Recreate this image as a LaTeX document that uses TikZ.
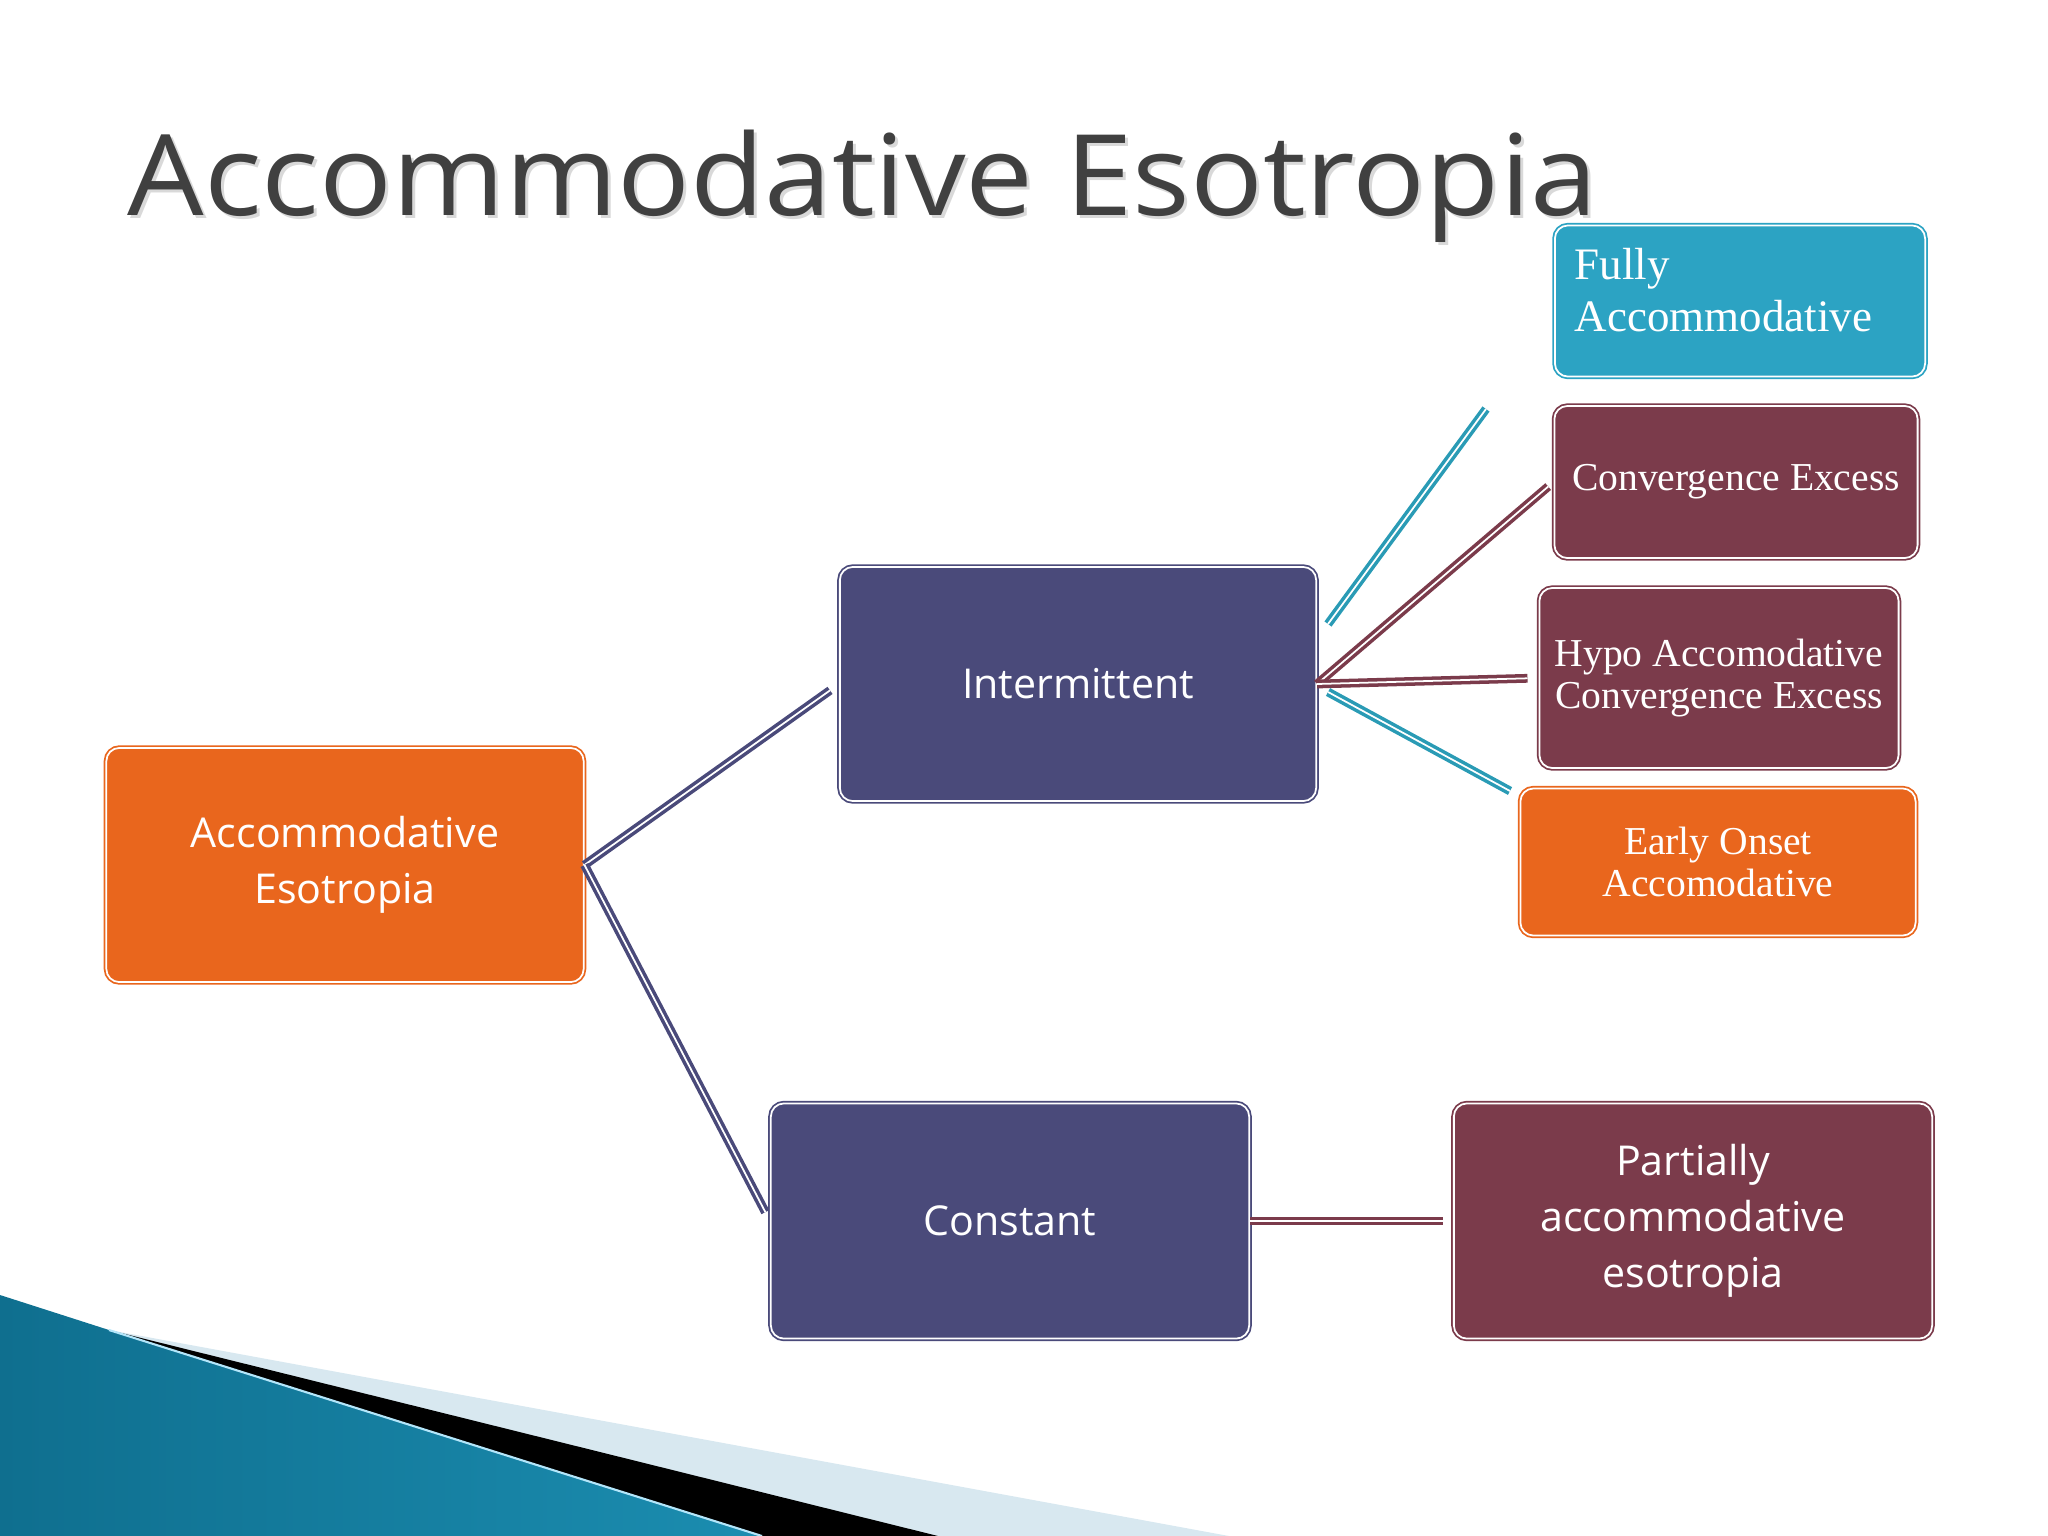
\documentclass[tikz,border=0pt]{standalone}
\usepackage{fontspec}
\setmainfont{Liberation Serif}
\newfontfamily\slidesans{Open Sans}
\usepackage{tikz}

\definecolor{boxorange}{HTML}{E9661D}
\definecolor{boxnavy}{HTML}{4A4A7A}
\definecolor{boxmaroon}{HTML}{7B3B4B}
\definecolor{boxteal}{HTML}{2CA3C3}
\definecolor{linkteal}{HTML}{2A9BB5}
\definecolor{titlegrey}{HTML}{404040}
\definecolor{swooshpale}{HTML}{D8E8F0}
\definecolor{swooshdark}{HTML}{0F6F8F}
\definecolor{swooshlight}{HTML}{62C0DF}
\definecolor{swooshmid}{HTML}{1B8DB0}

\begin{document}
\begin{tikzpicture}[x=0.01cm, y=-0.01cm,
    box/.style={rounded corners=0.13cm, draw=#1, fill=#1, double=white,
        double distance=0.5pt, line width=0.5pt, text=white, align=center},
    sansbox/.style={box=#1, font=\slidesans\fontsize{11.7}{15.9}\selectfont},
    serifbox/.style={box=#1, font=\fontsize{11.25}{11.9}\selectfont},
    link/.style={draw=#1, double=white, line width=1pt, double distance=0.5pt},
    titletext/.style={anchor=base west, inner sep=0pt, font=\slidesans\fontsize{32}{38}\selectfont}]
                \useasboundingbox (0,0) rectangle (2048,1536);

                % Swoosh at the bottom left
                \fill[swooshpale] (109,1330) -- (1229,1536) -- (700,1536) -- cycle;
                \fill[black] (109,1330) -- (938,1536) -- (762,1536) -- cycle;
                \shade[left color=swooshdark, middle color=swooshlight, right color=swooshmid]
                    (0,1295) -- (109,1330) -- (762,1536) -- (0,1536) -- cycle;
                \draw[white!70!cyan, line width=0.6pt] (109,1330) -- (762,1536);

                % Title
                \node[titletext, text=gray!30] at (130,218) {\scalebox{1.075}[1]{Accommodative Esotropia}};
                \node (title) [titletext, text=titlegrey] at (127,215) {\scalebox{1.075}[1]{Accommodative Esotropia}};

                % First level
                \node (root) [sansbox=boxorange, minimum width=4.77cm, minimum height=2.34cm]
                    at (345,865) {Accommodative\\Esotropia};

                % Second level
                \node (inter) [sansbox=boxnavy, minimum width=4.76cm, minimum height=2.34cm]
                    at (1078,684) {Intermittent};
                \node (const) [sansbox=boxnavy, minimum width=4.78cm, minimum height=2.35cm]
                    at (1010,1221) {Constant};

                % Third level
                \node (fully) [box=boxteal, minimum width=3.70cm, minimum height=1.51cm,
                    font=\fontsize{12.8}{14.8}\selectfont, text width=3.30cm, align=left, text depth=0.74cm]
                    at (1740,301) {Fully\\Accommodative};
                \node (conv) [serifbox=boxmaroon, minimum width=3.63cm, minimum height=1.52cm]
                    at (1736,482) {Convergence Excess};
                \node (hypo) [serifbox=boxmaroon, minimum width=3.59cm, minimum height=1.80cm]
                    at (1719,678) {Hypo Accomodative\\Convergence Excess};
                \node (early) [serifbox=boxorange, minimum width=3.95cm, minimum height=1.47cm]
                    at (1718,862) {Early Onset\\Accomodative};
                \node (partial) [sansbox=boxmaroon, minimum width=4.78cm, minimum height=2.35cm]
                    at (1693,1221) {Partially\\accommodative\\esotropia};

                % Connectors
                \draw[link=boxnavy, shorten >=0.11cm] (root.east) -- (inter.west);
                \draw[link=boxnavy, shorten >=0.10cm] (root.east) -- (const.west);
                \draw[link=boxmaroon, shorten >=0.07cm] (inter.east) -- (conv.west);
                \draw[link=boxmaroon, shorten >=0.11cm] (inter.east) -- (hypo.west);
                \draw[link=boxmaroon, shorten >=0.10cm] (const.east) -- (partial.west);

                % Loose teal links
                \coordinate (upfrom) at (1328,624);
                \coordinate (upto) at (1486,409);
                \coordinate (downfrom) at (1328,692);
                \coordinate (downto) at (1510,791);
                \draw[link=linkteal] (upfrom) -- (upto);
                \draw[link=linkteal] (downfrom) -- (downto);
            \end{tikzpicture}
\end{document}
